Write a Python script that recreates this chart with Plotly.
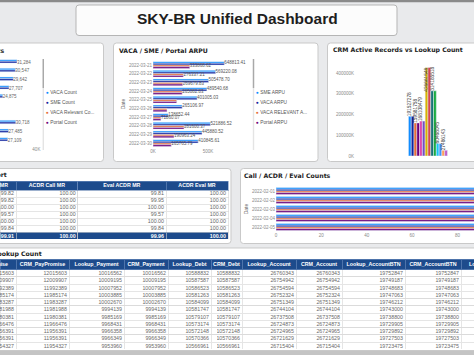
import plotly.graph_objects as go

W, H = 474, 355


def fx(x):
    return x / W


def fy(y):
    return 1 - y / H


# ------------------------------------------------------------------ data
p1_categories = ["2022-03-21", "2022-03-22", "2022-03-23", "2022-03-24", "2022-03-25",
                 "2022-03-26", "2022-03-27", "2022-03-28", "2022-03-29", "2022-03-30"]
p1_series = ["VACA Count", "SME Count", "VACA Relevant Count", "Portal Count"]
p1_vaca_count = [31284, 30547, 29642, 27707, 24875, 17332, 8105, 30718, 27485, 27109]
p1_sme_count = [31284, 30547, 29642, 27707, 24875, 17332, 8105, 30718, 27485, 27109]
p1_vaca_relevant_count = [1204, 1187, 1162, 1098, 987, 702, 355, 1210, 1096, 1073]
p1_portal_count = [842, 830, 815, 776, 701, 498, 240, 851, 770, 752]
p1_ticks = [40000]
p1_ticktext = ["40K"]

p2_dates = ["2022-03-21", "2022-03-22", "2022-03-23", "2022-03-24", "2022-03-25",
            "2022-03-26", "2022-03-27", "2022-03-28", "2022-03-29", "2022-03-30"]
p2_series = ["SME ARPU", "VACA ARPU", "VACA RELEVANT ARPU", "Portal ARPU"]
p2_sme_arpu = [648813.41, 569220.08, 505478.70, 489540.68, 401005.03,
               265106.97, 138652.44, 521886.52, 445880.52, 410845.61]
p2_vaca_arpu = [648813.41, 569220.08, 505478.70, 489540.68, 401005.03,
                265106.97, 138652.44, 521886.52, 445880.52, 410845.61]
p2_vaca_relevant_arpu = [333868.62, 276337.21, 269679.83, 265082.83, 215406.55,
                         127318.40, 71860.07, 281600.37, 190963.24, 165765.79]
p2_portal_arpu = [333868.62, 276337.21, 269679.83, 265082.83, 215406.55,
                  127318.40, 71860.07, 281600.37, 190963.24, 165765.79]
p2_relevant_label_visible = [True, True, True, True, False, False, True, True, True, True]
p2_ticks = [0, 500000]
p2_ticktext = ["0K", "500K"]

p3_category = ["Total"]
p3_series = ["Lookup_PayPromise", "CRM_PayPromise", "Lookup_Payment", "CRM_Payment",
             "Lookup_Debt", "CRM_Debt", "Lookup_Account", "CRM_Account",
             "Lookup_AccountBTN", "CRM_AccountBTN", "Lookup_Contact", "CRM_Contact",
             "Lookup_Address", "CRM_Address"]
p3_values = [191527278, 191527278, 159581758, 159581758, 168108479, 168108479,
             426661548, 426661548, 314185518, 314185518, 60468045, 60468045,
             27486143, 27486143]
p3_ticks = [0, 100000000, 200000000, 300000000, 400000000]
p3_ticktext = ["0K", "100000K", "200000K", "300000K", "400000K"]

p5_dates = ["2022-02-01", "2022-02-02", "2022-02-03", "2022-02-04", "2022-02-05"]
p5_series = ["Call Count", "ACDR Count", "Eval Count", "ACDR Eval Count"]
p5_call = [99.82, 99.82, 100.00, 99.57, 100.00]
p5_acdr = [100.00, 100.00, 100.00, 100.00, 100.00]
p5_eval = [99.81, 99.95, 100.00, 99.57, 100.00]
p5_acdr_eval = [100.00, 100.00, 100.00, 100.00, 100.00]
p5_ticks = [0, 20, 40, 60, 80]

t1_headers = ["MR", "ACDR Call MR", "Eval ACDR MR", "ACDR Eval MR"]
t1_call_mr = [99.82, 99.82, 100.00, 99.57, 100.00, 99.84]
t1_acdr_call_mr = [100.00, 100.00, 100.00, 100.00, 100.00, 100.00]
t1_eval_acdr_mr = [99.81, 99.95, 100.00, 99.57, 100.00, 99.84]
t1_acdr_eval_mr = [100.00, 100.00, 100.00, 100.00, 100.00, 100.00]
t1_totals = [99.91, 100.00, 99.96, 100.00]

t2_headers = ["Lookup_PayPromise", "CRM_PayPromise", "Lookup_Payment", "CRM_Payment",
              "Lookup_Debt", "CRM_Debt", "Lookup_Account", "CRM_Account",
              "Lookup_AccountBTN", "CRM_AccountBTN", "Lookup_Contact"]
t2_lookup_paypromise = [12015603, 12009907, 11992389, 11985174, 11983287, 11981988,
                        11980381, 11966476, 11956391, 11956391, 11954327]
t2_crm_paypromise = [12015603, 12009907, 11992389, 11985174, 11983287, 11981988,
                     11980381, 11966476, 11956391, 11956391, 11954327]
t2_lookup_payment = [10016562, 10009195, 10007952, 10003885, 10002670, 9994139,
                     9985169, 9968431, 9966358, 9966349, 9953960]
t2_crm_payment = [10016562, 10009195, 10007952, 10003885, 10002670, 9994139,
                  9985169, 9968431, 9966358, 9966349, 9953960]
t2_lookup_debt = [10588832, 10587587, 10586523, 10581263, 10584099, 10581747,
                  10579107, 10573174, 10572148, 10570366, 10566961]
t2_crm_debt = [10588832, 10587587, 10586523, 10581263, 10584099, 10581747,
               10579107, 10573174, 10572148, 10570366, 10566961]
t2_lookup_account = [26760343, 26754942, 26754594, 26752324, 26751349, 26744104,
                     26737508, 26724873, 26724965, 26721629, 26715404]
t2_crm_account = [26760343, 26754942, 26754594, 26752324, 26751349, 26744104,
                  26737508, 26724873, 26724965, 26721629, 26715404]
t2_lookup_accountbtn = [19752847, 19749187, 19748683, 19747063, 19746212, 19743000,
                        19738800, 19729905, 19729892, 19727503, 19723475]
t2_crm_accountbtn = [19752847, 19749187, 19748683, 19747063, 19746212, 19743000,
                     19738800, 19729905, 19729892, 19727503, 19723475]

# ------------------------------------------------------------------ style
PBI = ["#118DFF", "#12239E", "#E66C37", "#6B007B", "#E044A7", "#744EC2", "#D9B300",
       "#D64550", "#197278", "#1AAB40", "#15C6F4", "#4092FF", "#FFA058", "#BE5DC9"]
FONT = "Liberation Sans"
TFONT = "DejaVu Sans"
NAVY = "#1d4b8c"
GRID = "#d4d4d4"
TICK = dict(size=4.5, color="#8a8a8a", family=FONT)
CLEAR = "rgba(0,0,0,0)"


def trunc(s, n):
    return s if len(s) <= n else s[:n] + "..."


fig = go.Figure()

# ---------------- panel 1 (cut-off counts chart)
for i, (name, vals) in enumerate(zip(p1_series, [p1_vaca_count, p1_sme_count,
                                                 p1_vaca_relevant_count, p1_portal_count])):
    fig.add_bar(y=p1_categories, x=vals, orientation="h", name=name, marker_color=PBI[i],
                xaxis="x", yaxis="y", showlegend=False,
                texttemplate="%{x:,}" if name == "SME Count" else None,
                textposition="outside", cliponaxis=False, constraintext="none",
                textfont=dict(size=4.5, color="#666", family=FONT))

# ---------------- panel 2 (ARPU)
p2_values = [p2_sme_arpu, p2_vaca_arpu, p2_vaca_relevant_arpu, p2_portal_arpu]
for i, (name, vals) in enumerate(zip(p2_series, p2_values)):
    if i == 0:
        txt = ["%.2f" % v for v in vals]
    elif i == 2:
        txt = ["%.2f" % v if s else "" for v, s in zip(vals, p2_relevant_label_visible)]
    else:
        txt = None
    fig.add_bar(y=p2_dates, x=vals, orientation="h", name=name, marker_color=PBI[i],
                xaxis="x2", yaxis="y2", showlegend=False, text=txt,
                textposition="outside", cliponaxis=False, constraintext="none",
                textfont=dict(size=4.5, color="#555", family=FONT))

# ---------------- panel 3 (CRM vs lookup)
for i, (name, v) in enumerate(zip(p3_series, p3_values)):
    show = i % 2 == 0
    pos = "inside" if name in ("Lookup_Account",) else "outside"
    fig.add_bar(x=p3_category, y=[v], name=name, marker_color=PBI[i],
                xaxis="x3", yaxis="y3", showlegend=False,
                text=[str(v)] if show else None, textposition=pos, textangle=-90,
                insidetextanchor="end", cliponaxis=False, constraintext="none",
                textfont=dict(size=4.8, color="#444", family=FONT))

# ---------------- panel 5 (call / acdr / eval)
for i, (name, vals) in enumerate(zip(p5_series, [p5_call, p5_acdr, p5_eval, p5_acdr_eval])):
    fig.add_bar(y=p5_dates, x=vals, orientation="h", name=name, marker_color=PBI[i],
                xaxis="x4", yaxis="y4", showlegend=False, cliponaxis=False)


# ---------------- tables (layered: grid, header text, cell text)
TXT_PAD = 8  # plotly's inner cell padding


def text_base(fs):
    return TXT_PAD + 0.75 * fs


def add_table(x0, y_top, widths, header_h, row_h, headers, header_align, columns,
              fills, font_colors, fs, fs_h, n_text_cols):
    nc = len(widths)
    n = len(columns[0])
    total_w = sum(widths)
    # grid + fills
    fig.add_trace(go.Table(
        domain=dict(x=[fx(x0), fx(x0 + total_w)], y=[fy(y_top + header_h + n * row_h), fy(y_top)]),
        columnwidth=widths,
        header=dict(values=[""] * nc, fill_color=NAVY, line=dict(color="#6f8fbf", width=0.6),
                    height=header_h),
        cells=dict(values=[[""] * n for _ in range(nc)], fill_color=fills,
                   line=dict(color=GRID, width=0.6), height=row_h)))
    # header text
    b_top = y_top + header_h / 2 + 0.36 * fs_h - text_base(fs_h)
    fig.add_trace(go.Table(
        domain=dict(x=[fx(x0), fx(x0 + total_w)], y=[fy(b_top + header_h + 14), fy(b_top)]),
        columnwidth=widths,
        header=dict(values=headers, align=header_align, fill_color=CLEAR, line=dict(width=0),
                    font=dict(color="white", size=fs_h, family=FONT, weight="bold"),
                    height=header_h),
        cells=dict(values=[])))
    # cell text
    c_top = y_top + row_h / 2 + 0.36 * fs - text_base(fs)
    cw = [widths[0] + (TXT_PAD - 2)] + list(widths[1:n_text_cols])
    fig.add_trace(go.Table(
        domain=dict(x=[fx(x0), fx(x0 + sum(cw))],
                    y=[fy(min(H, c_top + header_h + n * row_h + 10)), fy(c_top)]),
        columnwidth=cw,
        header=dict(values=[""] * n_text_cols, fill_color=CLEAR, line=dict(width=0),
                    height=header_h),
        cells=dict(values=columns[:n_text_cols], align="right", fill_color=CLEAR,
                   line=dict(width=0), height=row_h,
                   font=dict(color=font_colors[:n_text_cols], size=fs, family=FONT))))


# table 1
t1_cols_num = [t1_call_mr, t1_acdr_call_mr, t1_eval_acdr_mr, t1_acdr_eval_mr]
t1_cols = [["%.2f" % v for v in col] + ["<b>%.2f</b>" % tot]
           for col, tot in zip(t1_cols_num, t1_totals)]
n1 = len(t1_cols[0])
t1_fill = [["white"] * (n1 - 1) + [NAVY] for _ in t1_cols]
t1_fc = [["#666"] * (n1 - 1) + ["white"] for _ in t1_cols]
add_table(0, 181, [16, 61.7, 88.3, 62], 9, 7, t1_headers,
          ["right", "center", "center", "center"], t1_cols, t1_fill, t1_fc,
          5.3, 5.3, 4)

# table 2
t2_num = [t2_lookup_paypromise, t2_crm_paypromise, t2_lookup_payment, t2_crm_payment,
          t2_lookup_debt, t2_crm_debt, t2_lookup_account, t2_crm_account,
          t2_lookup_accountbtn, t2_crm_accountbtn]
t2_cols = [[str(v) for v in col] for col in t2_num] + [[""] * len(t2_num[0])]
n2 = len(t2_cols[0])
t2_fill = [["white"] * n2 for _ in t2_cols]
t2_fc = [["#6a6a6a"] * n2 for _ in t2_cols]
add_table(0, 259, [16, 53, 55, 44, 43, 31, 54, 46, 63, 56, 13], 10.5, 7.27, t2_headers,
          ["right"] + ["center"] * 9 + ["left"], t2_cols, t2_fill, t2_fc,
          5.3, 5.3, 10)


# ---------------- panels (shapes)
def rrect(x0, y0, x1, y1, r=3):
    pts = [
        ("M", x0 + r, y0), ("L", x1 - r, y0), ("Q", x1, y0, x1, y0 + r),
        ("L", x1, y1 - r), ("Q", x1, y1, x1 - r, y1), ("L", x0 + r, y1),
        ("Q", x0, y1, x0, y1 - r), ("L", x0, y0 + r), ("Q", x0, y0, x0 + r, y0),
    ]
    out = []
    for p in pts:
        cmd = p[0]
        coords = p[1:]
        s = []
        for k in range(0, len(coords), 2):
            s.append("%.5f,%.5f" % (fx(coords[k]), fy(coords[k + 1])))
        out.append(cmd + " ".join(s))
    return " ".join(out) + " Z"


shapes = []
shapes.append(dict(type="rect", xref="paper", yref="paper", x0=0, x1=1, y0=fy(2.2), y1=1,
                   fillcolor="#8a8a8a", line=dict(width=0), layer="below"))
shapes.append(dict(type="rect", xref="paper", yref="paper", x0=0, x1=1, y0=0, y1=fy(350.5),
                   fillcolor="#c4c4c4", line=dict(width=0), layer="below"))
panels = [
    (76, 5, 397, 35.5, "#fcfcfc", "#b5b5b5"),
    (-5, 43, 103.5, 161.5, "white", "#c9c9c9"),
    (113.5, 43, 318, 161.5, "white", "#c9c9c9"),
    (327.5, 43, 480, 161.5, "white", "#c9c9c9"),
    (-5, 168.5, 231, 243.5, "white", "#c9c9c9"),
    (240.5, 168.5, 480, 243.5, "white", "#c9c9c9"),
    (-5, 248, 480, 350.5, "white", "#c9c9c9"),
]
for x0, y0, x1, y1, fc, lc in panels:
    shapes.append(dict(type="path", xref="paper", yref="paper", path=rrect(x0, y0, x1, y1),
                       fillcolor=fc, line=dict(color=lc, width=1), layer="below"))
# scrollbars
for sx in (42.6, 252.8):
    shapes.append(dict(type="rect", xref="paper", yref="paper", x0=fx(sx), x1=fx(sx + 1.4),
                       y0=fy(150), y1=fy(59), fillcolor="#e4e4e4", line=dict(width=0)))
    shapes.append(dict(type="rect", xref="paper", yref="paper", x0=fx(sx), x1=fx(sx + 1.4),
                       y0=fy(88), y1=fy(59), fillcolor="#a9a9a9", line=dict(width=0)))

# ---------------- annotations
ann = []
ann.append(dict(text="<b>SKY-BR Unified Dashboard</b>", x=fx(237), y=fy(18.5), xref="paper",
                yref="paper", showarrow=False, xanchor="center", yanchor="middle",
                font=dict(size=15.5, color="#1e1e1e", family=FONT)))
titles = [
    ("Counts", 6.8, 50, "right"),
    ("VACA / SME / Portal ARPU", 116.5, 50, "left"),
    ("CRM Active Records vs Lookup Count", 330.5, 50, "left"),
    ("MR Report", 8.6, 175, "right"),
    ("Call / ACDR / Eval Counts", 241.5, 175, "left"),
    ("CRM vs Lookup Count", 43.5, 253.5, "right"),
]
for t, x, y, anc in titles:
    ann.append(dict(text="<b>%s</b>" % t, x=fx(x), y=fy(y), xref="paper", yref="paper",
                    showarrow=False, xanchor=anc, yanchor="middle",
                    font=dict(size=6.2, color="#222", family=TFONT)))
for i, name in enumerate(p1_series):
    ann.append(dict(text="<span style='color:%s'>●</span> %s" % (PBI[i], trunc(name, 16)),
                    x=fx(43.6), y=fy(92.6 + 9.9 * i), xref="paper", yref="paper",
                    showarrow=False, xanchor="left", yanchor="middle",
                    font=dict(size=4.8, color="#555", family=FONT)))
for i, name in enumerate(p2_series):
    ann.append(dict(text="<span style='color:%s'>●</span> %s" % (PBI[i], trunc(name, 15)),
                    x=fx(254.3), y=fy(92.6 + 9.9 * i), xref="paper", yref="paper",
                    showarrow=False, xanchor="left", yanchor="middle",
                    font=dict(size=4.8, color="#555", family=FONT)))

AX = dict(showgrid=False, zeroline=False, showline=False, ticks="", tickfont=TICK,
          automargin=False)

fig.update_layout(
    width=W, height=H, autosize=False,
    margin=dict(l=0, r=0, t=0, b=0, pad=0, autoexpand=False),
    paper_bgcolor="#e9eaec", plot_bgcolor=CLEAR,
    barmode="group", bargap=0.22, bargroupgap=0,
    showlegend=False,
    font=dict(family=FONT),
    shapes=shapes, annotations=ann,
    xaxis=dict(AX, domain=[0, fx(42)], anchor="y", range=[23634, 42534],
               tickvals=p1_ticks, ticktext=p1_ticktext),
    yaxis=dict(AX, domain=[fy(145.4), fy(58.7)], anchor="x", type="category",
               autorange="reversed", showticklabels=False),
    xaxis2=dict(AX, domain=[fx(153), fx(250)], anchor="y2", range=[0, 882000],
                tickvals=p2_ticks, ticktext=p2_ticktext),
    yaxis2=dict(AX, domain=[fy(147.4), fy(60.7)], anchor="x2", type="category",
                autorange="reversed",
                title=dict(text="Date", font=dict(size=5, color="#666", family=FONT), standoff=3)),
    xaxis3=dict(AX, domain=[fx(355), 1], anchor="y3", type="category", range=[-1.459, 0.921],
                showticklabels=False),
    yaxis3=dict(AX, domain=[fy(156), fy(62.6)], anchor="x3", range=[0, 450000000],
                tickvals=p3_ticks, ticktext=p3_ticktext),
    xaxis4=dict(AX, domain=[fx(276), 1], anchor="y4", range=[0, 87.3], tickvals=p5_ticks),
    yaxis4=dict(AX, domain=[fy(231.5), fy(186.5)], anchor="x4", type="category",
                autorange="reversed",
                title=dict(text="Date", font=dict(size=5, color="#666", family=FONT), standoff=3)),
)

fig.write_html("out.html", config={"displayModeBar": False},
               post_script="document.body.style.margin='0px';")
